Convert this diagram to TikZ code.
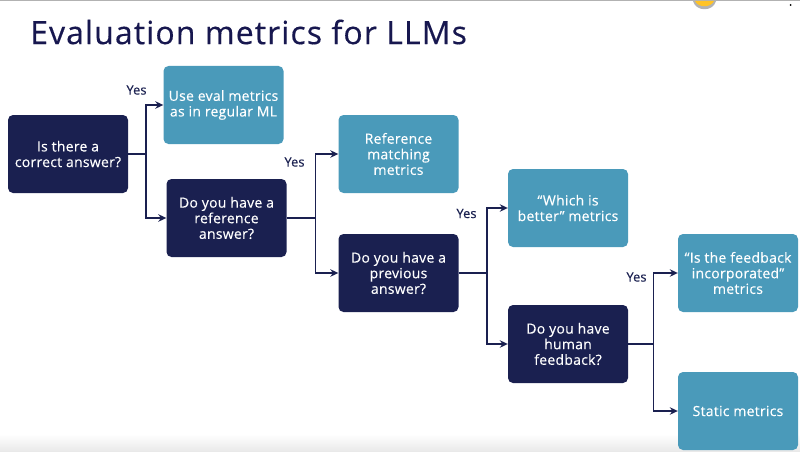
\documentclass[tikz,border=0pt]{standalone}
\usepackage{fontspec}
\setmainfont{Open Sans}
\usetikzlibrary{arrows.meta}
\definecolor{navy}{HTML}{1A2050}
\definecolor{teal2}{HTML}{4A9ABA}
\definecolor{titlec}{HTML}{17174F}
\tikzset{
  box/.style={rounded corners=5pt,minimum width=120pt,minimum height=78pt,inner sep=0pt,text=white,align=center,font=\fontsize{14}{15.6}\selectfont\addfontfeatures{LetterSpace=1.8,FakeBold=0.25}},
  dark/.style={box,fill=navy},
  light/.style={box,fill=teal2},
  conn/.style={draw=navy,line width=1.5pt,-{Stealth[length=8pt,width=7.5pt]}},
  stem/.style={draw=navy,line width=1.5pt},
  yes/.style={text=navy,font=\fontsize{13}{15}\selectfont\addfontfeatures{FakeBold=0.2},inner sep=0pt}
}
\begin{document}
\begin{tikzpicture}[x=1pt,y=-1pt]
\useasboundingbox (0,0) rectangle (800,452);
\fill[white] (0,0) rectangle (800,452);
\shade[top color=white,bottom color=black!9] (0,434) rectangle (800,452);
\fill[black!30] (0,0) rectangle (800,1);
\fill[black!30] (693,1) .. controls (696,12) and (713,12) .. (716,1) -- cycle;
\fill[orange!55!yellow!85!white] (695,1) .. controls (698,8) and (711,8) .. (714,1) -- cycle;
\fill[black] (790.5,5) circle (1pt);
\node[anchor=west,text=titlec,inner sep=0pt,font=\fontsize{32}{36}\selectfont\addfontfeatures{LetterSpace=3.4,FakeBold=0.35}] (title) at (30,32) {Evaluation metrics for LLMs};
\node[dark] (a) at (68,154) {Is there a\\correct answer?};
\node[light] (b) at (223.5,105) {Use eval metrics\\as in regular ML};
\node[dark] (c) at (226.5,218) {Do you have a\\reference\\answer?};
\node[light] (d) at (398.5,154) {Reference\\matching\\metrics};
\node[dark] (e) at (398.5,273) {Do you have a\\previous\\answer?};
\node[light] (f) at (568,208) {“Which is\\better” metrics};
\node[dark] (g) at (568,344) {Do you have\\human\\feedback?};
\node[light] (h) at (738,273) {“Is the feedback\\incorporated”\\metrics};
\node[light] (i) at (738,411) {Static metrics};
\coordinate (j1) at (146,154);
\coordinate (j2) at (315.5,218);
\coordinate (j3) at (487,273);
\coordinate (j4) at (653.5,344);
\draw[stem] (a.east) -- (j1);
\draw[conn] (j1) |- (b.west);
\draw[conn] (j1) |- (c.west);
\draw[stem] (c.east) -- (j2);
\draw[conn] (j2) |- (d.west);
\draw[conn] (j2) |- (e.west);
\draw[stem] (e.east) -- (j3);
\draw[conn] (j3) |- (f.west);
\draw[conn] (j3) |- (g.west);
\draw[stem] (g.east) -- (j4);
\draw[conn] (j4) |- (h.west);
\draw[conn] (j4) |- (i.west);
\node[yes] (y1) at (136.5,90) {Yes};
\node[yes] (y2) at (294.5,162) {Yes};
\node[yes] (y3) at (466.5,213.5) {Yes};
\node[yes] (y4) at (636.5,277) {Yes};
\end{tikzpicture}
\end{document}
